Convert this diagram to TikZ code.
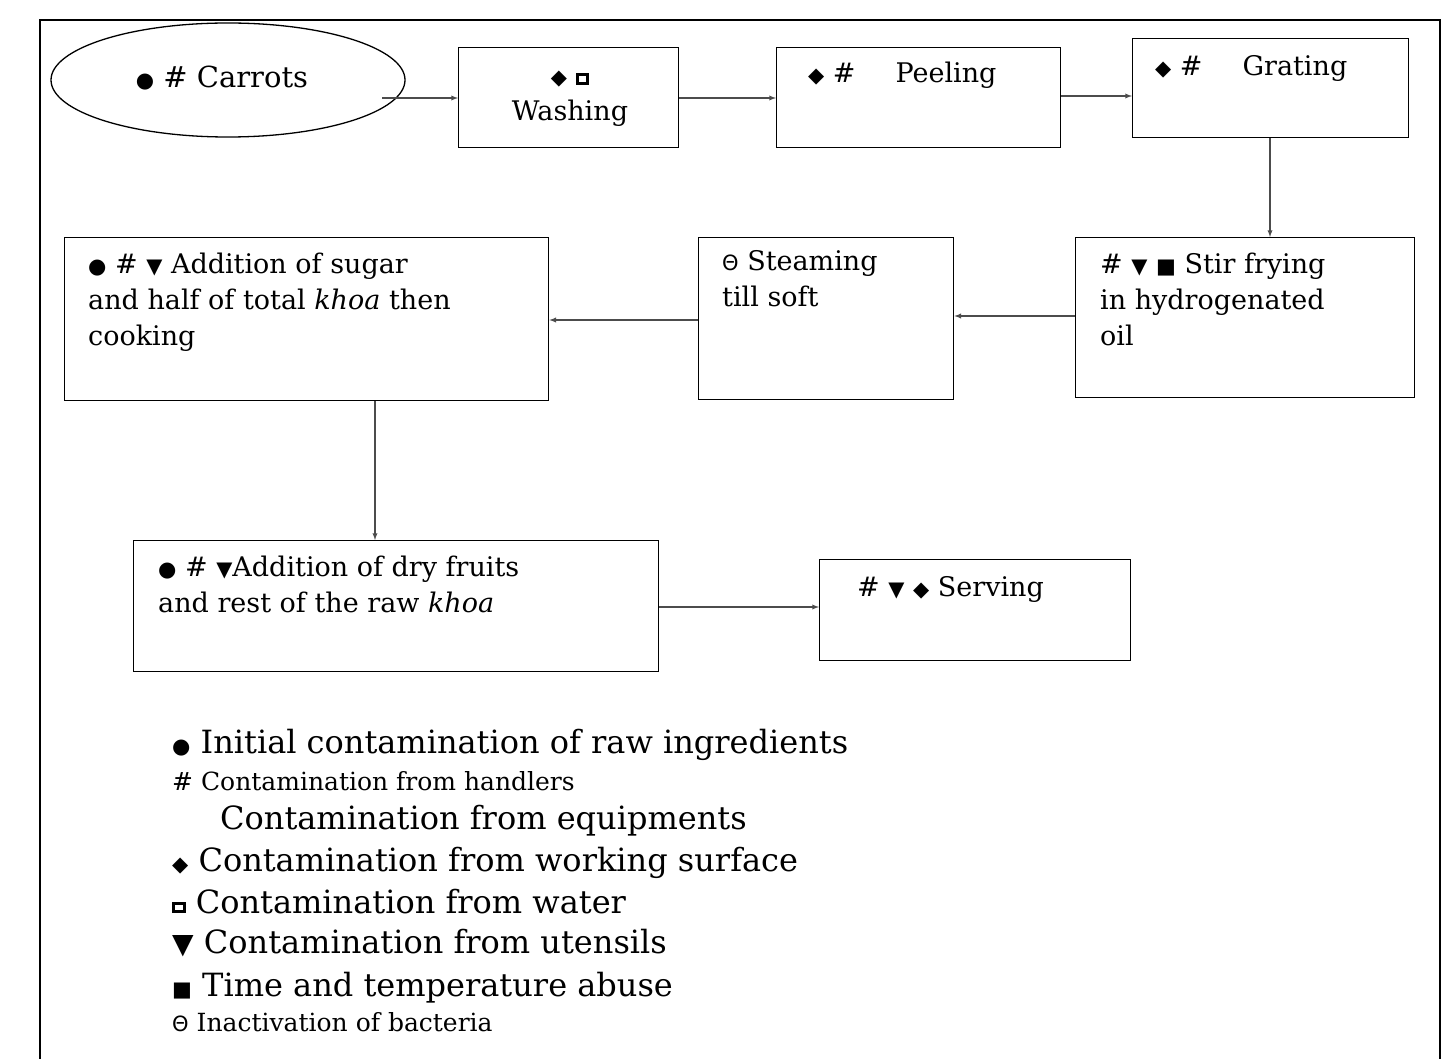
\documentclass[tikz,border=0pt]{standalone}
\usepackage{fontspec}
\usetikzlibrary{shapes.geometric}
\setmainfont{DejaVu Serif}
\newfontfamily\symf{DejaVu Sans}
\newcommand{\sy}[1]{{\symf\fontsize{21}{24}\selectfont #1}}
\newcommand{\hsq}{\tikz[baseline=0,x=1pt,y=1pt]\draw[line width=3pt] (1.5,1.5) rectangle (12,10);}
\begin{document}
\begin{tikzpicture}[x=1pt,y=-1pt,
  box/.style={draw,line width=1.3pt,anchor=north west,inner sep=0pt},
  tx/.style={font=\fontsize{27}{36}\selectfont,anchor=north west,align=left,inner sep=0pt},
  ar/.style={draw=black!70,line width=1.3pt,-latex},
  leg/.style={anchor=base west,inner sep=0pt}]
\useasboundingbox (0,0) rectangle (1447,1059);
\draw[line width=1.5pt] (40,1070) -- (40,20) -- (1440,20) -- (1440,1070);
\node[draw,ellipse,line width=1.3pt,minimum width=354,minimum height=114,inner sep=0pt] (car) at (228,80) {};
\node[font=\fontsize{29}{36}\selectfont] (cart) at (222,78) {\sy{●} \# Carrots};
\node[box,minimum width=220,minimum height=100] (wash) at (458,47) {};
\node[font=\fontsize{27}{36}\selectfont,align=center] at (570,99) {\sy{◆} \hsq\\Washing};
\node[box,minimum width=284,minimum height=100] (peel) at (776,47) {};
\node[tx] at (808,62) {\sy{◆} \#\hspace{40pt}Peeling};
\node[box,minimum width=276,minimum height=99] (grat) at (1132,38) {};
\node[tx] at (1155,55) {\sy{◆} \#\hspace{40pt}Grating};
\node[box,minimum width=339,minimum height=160] (stir) at (1075,237) {};
\node[tx] at (1100,253) {\# \sy{▼} \sy{■} Stir frying\\in hydrogenated\\oil};
\node[box,minimum width=255,minimum height=162] (steam) at (698,237) {};
\node[tx] at (722,250) {\sy{Θ} Steaming\\till soft};
\node[box,minimum width=484,minimum height=163] (sug) at (64,237) {};
\node[tx] at (88,253) {\sy{●} \# \sy{▼} Addition of sugar\\and half of total \textit{khoa} then\\cooking};
\node[box,minimum width=525,minimum height=131] (dry) at (133,540) {};
\node[tx] at (158,556) {\sy{●} \# \sy{▼}Addition of dry fruits\\and rest of the raw \textit{khoa}};
\node[box,minimum width=311,minimum height=101] (serv) at (819,559) {};
\node[tx] at (857,576) {\# \sy{▼} \sy{◆} Serving};
\draw[ar] (382,98) -- (wash.west|-0,98);
\draw[ar] (wash.east|-0,98) -- (peel.west|-0,98);
\draw[ar] (peel.east|-0,96) -- (grat.west|-0,96);
\draw[ar] (grat.south-|1270,0) -- (stir.north-|1270,0);
\draw[ar] (stir.west|-0,316) -- (steam.east|-0,316);
\draw[ar] (steam.west|-0,320) -- (sug.east|-0,320);
\draw[ar] (sug.south-|375,0) -- (dry.north-|375,0);
\draw[ar] (dry.east|-0,607) -- (serv.west|-0,607);
\node[leg,font=\fontsize{32}{40}\selectfont] (l1) at (172,753) {\sy{●} Initial contamination of raw ingredients};
\node[leg,font=\fontsize{25}{30}\selectfont] (l2) at (172,790) {\# Contamination from handlers};
\node[leg,font=\fontsize{32}{40}\selectfont] (l3) at (220,829) {Contamination from equipments};
\node[leg,font=\fontsize{32}{40}\selectfont] (l4) at (172,871) {\sy{◆} Contamination from working surface};
\node[leg,font=\fontsize{32}{40}\selectfont] (l5) at (172,913) {\hsq\ Contamination from water};
\node[leg,font=\fontsize{32}{40}\selectfont] (l6) at (172,953) {{\symf\fontsize{28}{30}\selectfont ▼} Contamination from utensils};
\node[leg,font=\fontsize{32}{40}\selectfont] (l7) at (172,996) {\sy{■} Time and temperature abuse};
\node[leg,font=\fontsize{25}{30}\selectfont] (l8) at (172,1031) {\sy{Θ} Inactivation of bacteria};
\end{tikzpicture}
\end{document}
